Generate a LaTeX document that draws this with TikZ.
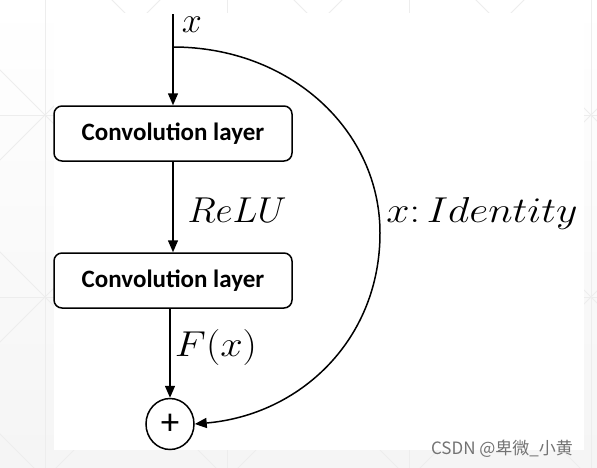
\documentclass[tikz,border=0pt]{standalone}
\usepackage{fix-cm}
\usepackage{fontspec}
\setsansfont{Carlito}
\newfontfamily\cjk{Noto Sans CJK SC}
\usetikzlibrary{arrows.meta,shapes.geometric}
\begin{document}
\begin{tikzpicture}[x=1pt,y=-1pt,
  layer/.style={draw, line width=1.5pt, rounded corners=8pt,
    minimum width=238pt, minimum height=55pt, inner sep=0pt,
    font=\sffamily\bfseries\fontsize{25}{28}\selectfont},
  conn/.style={line width=1.5pt, -{Triangle[length=12pt,width=10pt]}},
  lbl/.style={inner sep=0pt, font=\fontsize{36}{40}\selectfont},
  patt/.style={draw=black!7, line width=0.8pt}]
% canvas and faint background pattern
\useasboundingbox (0,0) rectangle (597,467);
\shade[top color=white, bottom color=black!4] (0,0) rectangle (597,467);
\foreach \i in {-4,...,4}{
  \draw[patt] (45+182*\i,-10) -- (45+182*\i,480);
  \draw[patt] (-10,115+182*\i) -- (610,115+182*\i);
  \draw[patt] (45+182*\i-400,115-400) -- (45+182*\i+400,115+400);
  \draw[patt] (45+182*\i-400,115+400) -- (45+182*\i+400,115-400);
}
\fill[white] (54,13) rectangle (584,450);
% nodes
\node[layer] (c1) at (173,133.5) {Convolution layer};
\node[layer] (c2) at (173,280.5) {Convolution layer};
\node[draw, ellipse, line width=1.5pt, minimum width=48pt, minimum height=51pt,
  inner sep=0pt, font=\sffamily\fontsize{37}{37}\selectfont] (sum) at (170,424) {+};
\coordinate (in) at (173,14);
\coordinate (split) at (173,47);
% labels
\node[lbl] (lx) at (192,25) {$x$};
\node[lbl] (lrelu) at (237,210) {\scalebox{1.04}[1]{$ReLU$}};
\node[lbl] (lfx) at (216,347) {\scalebox{1.12}[1]{$F(x)$}};
\node[lbl] (lid) at (482,213) {\scalebox{1.16}[1]{$x{:}\,Identity$}};
% connectors
\draw[conn] (in) -- (c1.north);
\draw[conn] (c1.south) -- (c2.north);
\draw[conn] (c2.south -| sum.north) -- (sum.north);
\draw[conn] (split) .. controls (290,47) and (380,130) .. (380,233)
  .. controls (380,340) and (300,415) .. (sum.east);
% watermark
\node[font=\cjk\fontsize{17}{20}\selectfont, text=black!55, inner sep=0pt] (wm) at (502,449) {CSDN @卑微\_小黄};
\end{tikzpicture}
\end{document}
